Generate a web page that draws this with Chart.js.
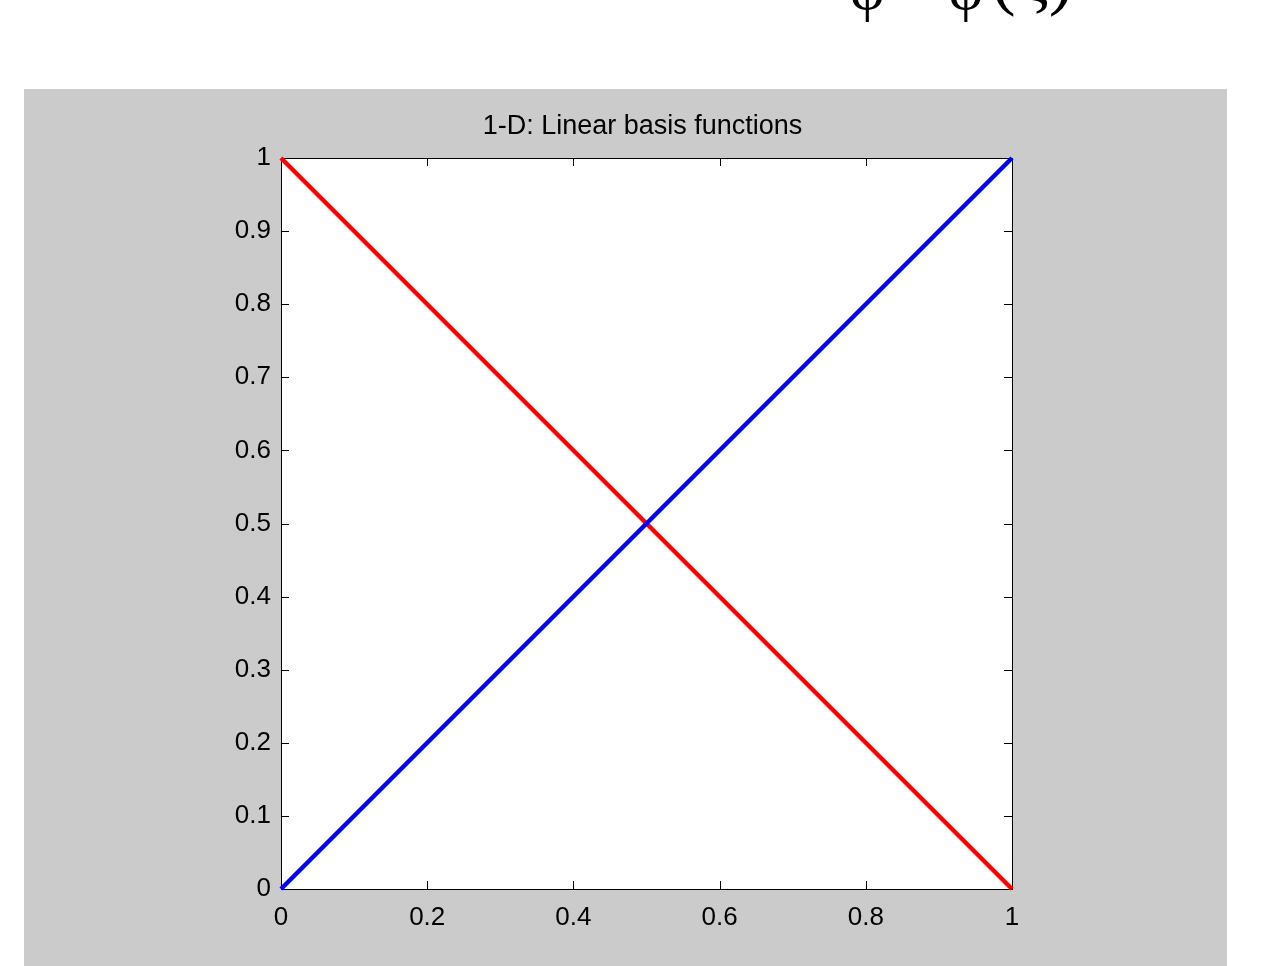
<!DOCTYPE html>
<html>
<head>
<meta charset="utf-8">
<title>1-D: Linear basis functions</title>
<script src="https://cdn.jsdelivr.net/npm/chart.js@4/dist/chart.umd.min.js"></script>
<style>
    html, body { margin: 0; padding: 0; background: #ffffff; width: 1268px; height: 966px; overflow: hidden; }
    #formula {
        position: absolute; left: 850px; top: -46px;
        font: 60px 'Liberation Serif', 'DejaVu Serif', serif; line-height: 60px;
        color: #000; white-space: nowrap;
    }
    #formula span { font-size: 74px; position: relative; top: -8px; margin-left: 8px; }
    #wrap { position: absolute; left: 24px; top: 89px; width: 1203px; height: 877px; background: #cbcbcb; }
</style>
</head>
<body>
<div id="formula">φ = φ<span>(ξ)</span></div>
<div id="wrap"><canvas id="basisChart"></canvas></div>
<script>
// Nodes and basis function values
const xNodes = [0, 0.5, 1];
const phi1 = [1, 0.5, 0];
const phi2 = [0, 0.5, 1];

// Tick labels
const xTicks = [0, 0.2, 0.4, 0.6, 0.8, 1];
const yTicks = [0, 0.1, 0.2, 0.3, 0.4, 0.5, 0.6, 0.7, 0.8, 0.9, 1];

const chartTitle = '1-D: Linear basis functions';
const fontFamily = "'Liberation Sans', Arial, sans-serif";
const tickFont = { family: fontFamily, size: 26 };

// Box frame, inward ticks on all four sides and the title, MATLAB style
const boxTicks = {
    id: 'boxTicks',
    beforeDatasetsDraw(chart) {
        const { ctx, chartArea: a, scales: { x, y } } = chart;
        const len = 8;
        ctx.save();
        ctx.fillStyle = '#ffffff';
        ctx.fillRect(a.left, a.top, a.right - a.left, a.bottom - a.top);
        ctx.strokeStyle = '#000000';
        ctx.lineWidth = 1;
        ctx.beginPath();
        xTicks.forEach(v => {
            const px = Math.round(x.getPixelForValue(v)) + 0.5;
            ctx.moveTo(px, a.bottom); ctx.lineTo(px, a.bottom - len);
            ctx.moveTo(px, a.top); ctx.lineTo(px, a.top + len);
        });
        yTicks.forEach(v => {
            const py = Math.round(y.getPixelForValue(v)) + 0.5;
            ctx.moveTo(a.left, py); ctx.lineTo(a.left + len, py);
            ctx.moveTo(a.right, py); ctx.lineTo(a.right - len, py);
        });
        ctx.stroke();
        ctx.strokeRect(Math.round(a.left) + 0.5, Math.round(a.top) + 0.5,
            Math.round(a.right - a.left), Math.round(a.bottom - a.top));

        ctx.fillStyle = '#000000';
        ctx.font = '27px ' + fontFamily;
        ctx.textAlign = 'center';
        ctx.textBaseline = 'middle';
        ctx.fillText(chartTitle, (a.left + a.right) / 2 - 4, a.top - 31);
        ctx.restore();
    }
};

new Chart(document.getElementById('basisChart'), {
    type: 'line',
    data: {
        datasets: [
            {
                label: 'phi2',
                data: xNodes.map((x, i) => ({ x, y: phi2[i] })),
                borderColor: '#0000ff',
                borderWidth: 4.5,
                pointRadius: 0,
                clip: false
            },
            {
                label: 'phi1',
                data: xNodes.map((x, i) => ({ x, y: phi1[i] })),
                borderColor: '#ff0000',
                borderWidth: 4.5,
                pointRadius: 0,
                clip: false
            }
        ]
    },
    options: {
        responsive: true,
        maintainAspectRatio: false,
        animation: false,
        layout: { padding: { left: 0, right: 215, top: 69, bottom: 0 } },
        plugins: {
            legend: { display: false },
            tooltip: { enabled: false },
            title: { display: false }
        },
        scales: {
            x: {
                type: 'linear',
                min: 0,
                max: 1,
                afterBuildTicks: (s) => { s.ticks = xTicks.map(v => ({ value: v })); },
                afterFit: (s) => { s.height = 77; },
                grid: { display: false, drawTicks: false },
                border: { display: false },
                ticks: {
                    color: '#000000',
                    font: tickFont,
                    padding: 13,
                    maxRotation: 0,
                    callback: (v) => String(v)
                }
            },
            y: {
                type: 'linear',
                min: 0,
                max: 1,
                afterBuildTicks: (s) => { s.ticks = yTicks.map(v => ({ value: v })); },
                afterFit: (s) => { s.width = 257; },
                grid: { display: false, drawTicks: false },
                border: { display: false },
                ticks: {
                    color: '#000000',
                    font: tickFont,
                    padding: 10,
                    callback: (v) => String(v)
                }
            }
        }
    },
    plugins: [boxTicks]
});
</script>
</body>
</html>
